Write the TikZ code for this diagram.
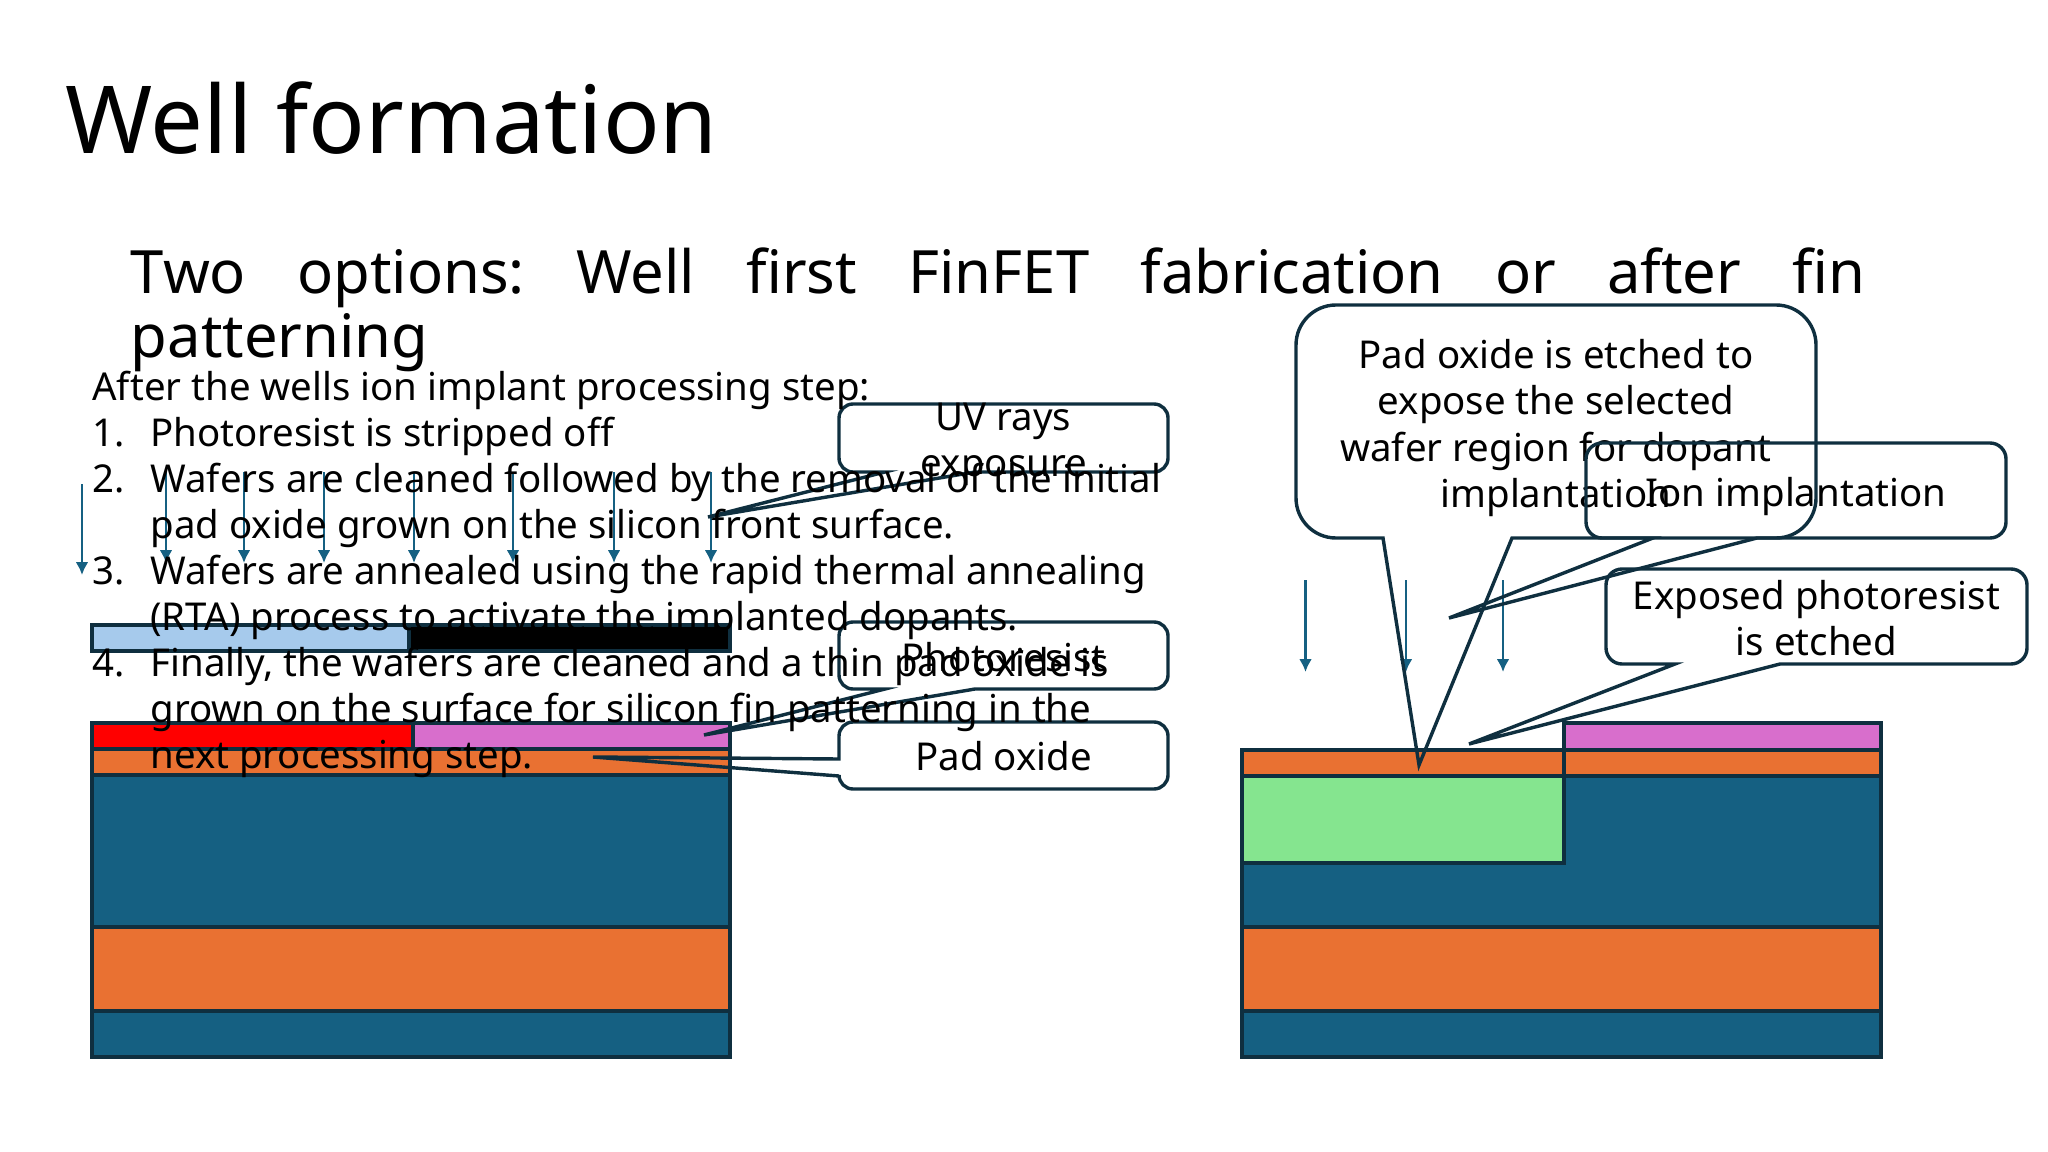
\documentclass[tikz,border=0pt]{standalone}
\usepackage{fontspec}
\setmainfont{Noto Sans}
\usetikzlibrary{arrows.meta}
\definecolor{siblue}{HTML}{156082}
\definecolor{oxide}{HTML}{E97132}
\definecolor{resist}{HTML}{D86ECC}
\definecolor{well}{HTML}{85E58F}
\definecolor{mask}{HTML}{A6CAEC}
\definecolor{edge}{HTML}{0F2F3F}
\tikzset{layer/.style = {draw=edge, line width=1.5pt}}
\tikzset{rays/.style = {draw=siblue, line width=1.2pt, -{Latex[length=6pt, width=6pt]}}}
\tikzset{wedgeline/.style = {draw=edge, line width=1.6pt, line join=miter}}
\tikzset{wedgetext/.style = {font=\fontsize{18pt}{21.6pt}\selectfont, align=center, inner sep=0}}
\newcommand{\numitem}[1]{\makebox[27.2pt][l]{#1}}
% name, corner, corner, pointer base, pointer base, tip, radius
\newcommand{\wedgebox}[7]{
    \coordinate (#1nw) at (#2);
    \coordinate (#1se) at (#3);
    \draw [wedgeline] (#4,0 |- #1se) [rounded corners=#7*0.46875pt] -| (#1nw) -| (#1se)
        [sharp corners] -- (#5,0 |- #1se) -- (#6) -- cycle;
}

\begin{document}
\begin{tikzpicture}[x=0.46875pt, y=-0.46875pt]
    \useasboundingbox (0, 0) rectangle (2048, 1152);

    \node [anchor=base west, inner sep=0, font=\fontsize{44pt}{52pt}\selectfont] (title) at (65, 154) {Well formation};
    \node [anchor=north west, inner sep=0, align=left, font=\fontsize{28pt}{30.2pt}\selectfont] (subtitle) at (130.5, 247)
        {\frenchspacing\makebox[813pt][s]{Two options: Well first FinFET fabrication or after fin}\\patterning};

    % left wafer
    \draw [layer, fill=siblue] (92, 1011) rectangle (730, 1057);
    \draw [layer, fill=oxide] (92, 927) rectangle (730, 1011);
    \draw [layer, fill=siblue] (92, 775) rectangle (730, 927);
    \draw [layer, fill=oxide] (92, 749) rectangle (730, 775);
    \draw [layer, fill=red] (92, 723) rectangle (413, 749);
    \draw [layer, fill=resist] (413, 723) rectangle (730, 749);
    \draw [layer, fill=mask] (92, 625) rectangle (409, 651);
    \draw [layer, fill=black] (409, 625) rectangle (730, 651);

    \foreach \x in {166, 244, 324, 414, 513, 614, 711}
        \draw [rays] (\x, 472) -- (\x, 563);
    \draw [rays] (82, 484) -- (82, 575);

    % right wafer
    \draw [layer, fill=siblue] (1242, 1011) rectangle (1881, 1057);
    \draw [layer, fill=oxide] (1242, 927) rectangle (1881, 1011);
    \draw [layer, fill=siblue] (1242, 776) rectangle (1881, 927);
    \draw [layer, fill=well] (1242, 776) rectangle (1564, 863);
    \draw [layer, fill=oxide] (1242, 750) rectangle (1564, 776);
    \draw [layer, fill=oxide] (1564, 750) rectangle (1881, 776);
    \draw [layer, fill=resist] (1564, 723) rectangle (1881, 750);

    \foreach \x in {1305.5, 1406, 1503}
        \draw [rays] (\x, 580) -- (\x, 672);

    \wedgebox{uv}{839,404}{1168,472}{885}{975}{708,517}{14}
    \node [wedgetext] (uv) at (1003.5, 444) {UV rays\\exposure};
    \wedgebox{photo}{839,622}{1168,689}{885}{975}{704,735}{14}
    \node [wedgetext] (photo) at (1003.5, 657) {Photoresist};
    \wedgebox{etch}{1296,305}{1816,538}{1383}{1512}{1419,765}{40}
    \node [wedgetext] (etch) at (1556, 428) {Pad oxide is etched to\\expose the selected\\wafer region for dopant\\implantation};
    \wedgebox{ion}{1586,443}{2006,538}{1653}{1757}{1449,618}{16}
    \node [wedgetext] (ion) at (1796, 497) {Ion implantation};
    \wedgebox{expo}{1606,569}{2027,664}{1675}{1780}{1469,744}{16}
    \node [wedgetext] (expo) at (1816.5, 618) {Exposed photoresist\\is etched};

    \coordinate (padnw) at (839, 722);
    \coordinate (padse) at (1168, 789);
    \draw [wedgeline] (839, 759) [rounded corners=14*0.46875pt] |- (padse |- padnw) -- (padse) -- (padnw |- padse)
        [sharp corners] -- (839, 776) -- (593, 757) -- cycle;
    \node [wedgetext] (pad) at (1003.5, 756) {Pad oxide};

    \node [anchor=north west, inner sep=0, align=left, font=\fontsize{18pt}{21.6pt}\selectfont] (steps) at (92, 370.5)
        {After the wells ion implant processing step:\\
        \numitem{1.}Photoresist is stripped off\\
        \numitem{2.}Wafers are cleaned followed by the removal of the initial\\
        \numitem{}pad oxide grown on the silicon front surface.\\
        \numitem{3.}Wafers are annealed using the rapid thermal annealing\\
        \numitem{}(RTA) process to activate the implanted dopants.\\
        \numitem{4.}Finally, the wafers are cleaned and a thin pad oxide is\\
        \numitem{}grown on the surface for silicon fin patterning in the\\
        \numitem{}next processing step.};
\end{tikzpicture}
\end{document}
